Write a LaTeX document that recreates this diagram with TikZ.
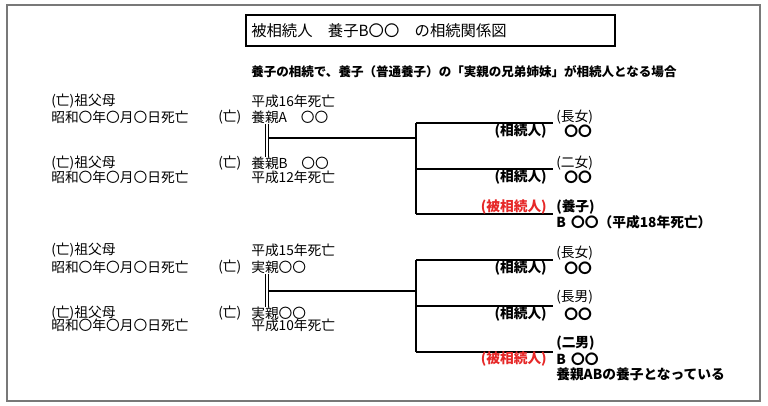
\documentclass[tikz,border=0pt]{standalone}
\usepackage{fontspec}
\setmainfont{Noto Sans CJK JP}
\definecolor{frameGray}{RGB}{120,120,120}
\definecolor{deceasedRed}{RGB}{230,40,40}
\begin{document}
\begin{tikzpicture}[x=0.75pt,y=0.75pt,yscale=-1,xscale=1,
  txt/.style={anchor=west,inner sep=0.75pt,font=\fontsize{10.3}{12}\selectfont},
  btxt/.style={txt,font=\fontsize{10.3}{12}\selectfont\bfseries},
  heir/.style={anchor=east,inner sep=0.75pt,font=\fontsize{10.3}{12}\selectfont\bfseries},
  tree/.style={line width=0.9pt},
  couple/.style={double,double distance=1.5pt,line width=0.5pt}]
\useasboundingbox (0,0) rectangle (768,406);

%Shape: Rectangle [id:outer frame]
\draw [frameGray,line width=1pt] (7,5) rectangle (760,401) ;
%Shape: Rectangle [id:title box]
\draw [line width=0.9pt] (246,15) rectangle (615,46) ;

% Text Node
\node (title) at (250,31) [anchor=west,inner sep=0.75pt,font=\fontsize{11.5}{14}\selectfont] {被相続人　養子B〇〇　の相続関係図};
% Text Node
\node (sub) at (250,72) [btxt,font=\fontsize{9.4}{12}\selectfont\bfseries] {養子の相続で、養子（普通養子）の「実親の兄弟姉妹」が相続人となる場合};

%% upper family: adoptive parents
% Text Node
\node (gpA) at (50,101) [txt] {(亡)祖父母};
\node (gpAd) at (50,117) [txt] {昭和〇年〇月〇日死亡};
\node (gpB) at (50,163) [txt] {(亡)祖父母};
\node (gpBd) at (50,177) [txt] {昭和〇年〇月〇日死亡};
% Text Node
\node (adAd) at (250,101) [txt] {平成16年死亡};
\node (adAm) at (217,117) [txt] {(亡)};
\node (adA) at (250,117) [txt] {養親A　〇〇};
\node (adBm) at (217,163) [txt] {(亡)};
\node (adB) at (250,163) [txt] {養親B　〇〇};
\node (adBd) at (250,177) [txt] {平成12年死亡};

\coordinate (cA) at (267,124);
\coordinate (cB) at (267,157);
\coordinate (cAB) at (268,138);
\coordinate (jAB) at (416,138);
\coordinate (tTop) at (416,123);
\coordinate (tMid) at (416,169);
\coordinate (tBot) at (416,214);
\coordinate (eTop) at (553,123);
\coordinate (eMid) at (553,169);
\coordinate (eBot) at (553,214);
%Straight Lines [id:upper couple]
\draw [couple] (cA) -- (cB) ;
\draw [tree] (cAB) -- (jAB) ;
\draw [tree] (tTop) -- (tBot) ;
\draw [tree] (tTop) -- (eTop) ;
\draw [tree] (tMid) -- (eMid) ;
\draw [tree] (tBot) -- (eBot) ;

% Text Node
\node (c1r) at (555,117) [txt] {(長女)};
\node (c1h) at (548,131) [heir] {(相続人)};
\node (c1n) at (563,131) [btxt] {〇〇};
\node (c2r) at (555,163) [txt] {(二女)};
\node (c2h) at (548,177) [heir] {(相続人)};
\node (c2n) at (563,177) [btxt] {〇〇};
\node (c3h) at (548,207) [heir,deceasedRed] {(被相続人)};
\node (c3r) at (555,207) [btxt] {(養子)};
\node (c3n) at (555,222) [btxt] {B\hspace{4pt}〇〇（平成18年死亡）};

%% lower family: natural parents
% Text Node
\node (gpC) at (50,250) [txt] {(亡)祖父母};
\node (gpCd) at (50,267) [txt] {昭和〇年〇月〇日死亡};
\node (gpD) at (50,313) [txt] {(亡)祖父母};
\node (gpDd) at (50,325) [txt] {昭和〇年〇月〇日死亡};
% Text Node
\node (npCd) at (250,250) [txt] {平成15年死亡};
\node (npCm) at (217,267) [txt] {(亡)};
\node (npC) at (250,267) [txt] {実親〇〇};
\node (npDm) at (217,313) [txt] {(亡)};
\node (npD) at (250,313) [txt] {実親〇〇};
\node (npDd) at (250,325) [txt] {平成10年死亡};

\coordinate (cC) at (267,274);
\coordinate (cD) at (267,307);
\coordinate (cCD) at (268,291);
\coordinate (jCD) at (416,291);
\coordinate (uTop) at (416,260);
\coordinate (uMid) at (416,306);
\coordinate (uBot) at (416,352);
\coordinate (fTop) at (553,260);
\coordinate (fMid) at (553,306);
\coordinate (fBot) at (553,352);
%Straight Lines [id:lower couple]
\draw [couple] (cC) -- (cD) ;
\draw [tree] (cCD) -- (jCD) ;
\draw [tree] (uTop) -- (uBot) ;
\draw [tree] (uTop) -- (fTop) ;
\draw [tree] (uMid) -- (fMid) ;
\draw [tree] (uBot) -- (fBot) ;

% Text Node
\node (s1r) at (555,253) [txt] {(長女)};
\node (s1h) at (548,268) [heir] {(相続人)};
\node (s1n) at (563,268) [btxt] {〇〇};
\node (s2r) at (555,297) [txt] {(長男)};
\node (s2h) at (548,314) [heir] {(相続人)};
\node (s2n) at (563,314) [btxt] {〇〇};
\node (s3r) at (555,343) [btxt] {(二男)};
\node (s3h) at (548,359) [heir,deceasedRed] {(被相続人)};
\node (s3n) at (555,359) [btxt] {B\hspace{4pt}〇〇};
\node (s3note) at (555,374) [btxt] {養親ABの養子となっている};
\end{tikzpicture}
\end{document}
